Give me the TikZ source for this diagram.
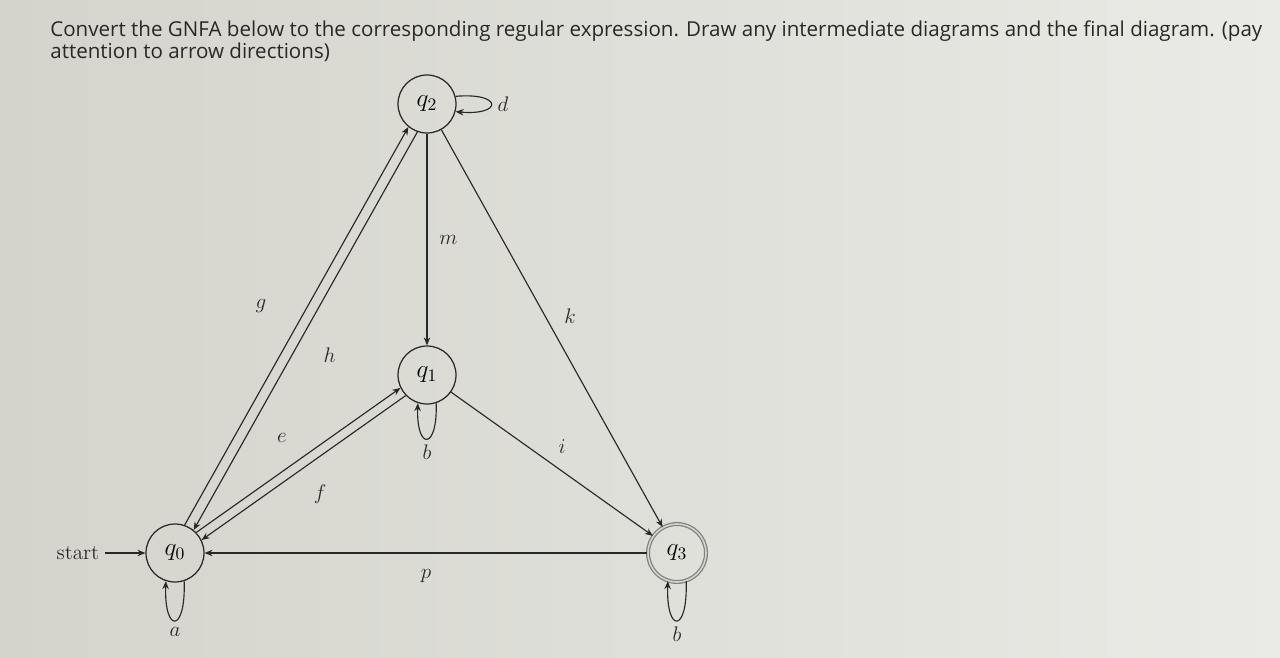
\documentclass[tikz,border=0pt]{standalone}
\usepackage{fontspec}
\newfontfamily\titlefont{Open Sans}
\usetikzlibrary{positioning, arrows.meta}
\definecolor{screen}{RGB}{212,212,204}
\definecolor{screenlight}{RGB}{234,234,230}
\definecolor{ink}{RGB}{40,40,40}

\begin{document}
\begin{tikzpicture}[x=0.02cm, y=-0.02cm, >={Stealth[length=1.6mm, width=1.3mm]},
		state/.style={circle, draw=ink, line width=0.7pt, minimum size=1.16cm, inner sep=0pt, font=\Large},
		accepting/.style={draw=gray, double=screen, double distance=0.9pt},
		trans/.style={->, draw=ink, line width=0.65pt},
		lbl/.style={font=\large, text=ink}]
	\shade[left color=screen, right color=screenlight] (0,0) rectangle (1280,658);
	\useasboundingbox (0,0) rectangle (1280,658);
	\node[anchor=north west, align=left, inner sep=0pt, text=ink, font=\titlefont\fontsize{11.7}{12.9}\selectfont] (title) at (50,20) {Convert the GNFA below to the corresponding regular expression. Draw any intermediate diagrams and the final diagram. (pay\\attention to arrow directions)};
	% states
	\node[state] (q0) at (175,553) {$q_0$};
	\node[state] (q1) at (427,375) {$q_1$};
	\node[state] (q2) at (427,104) {$q_2$};
	\node[state, accepting] (q3) at (677,553) {$q_3$};
	\node[lbl, left=0.8cm of q0] (start) {start};
	\draw[trans] (start) -- (q0);
	% transitions
	\draw[trans] (q0.71) -- node[lbl, pos=.55, left=0.7cm] {$g$} (q2.231);
	\draw[trans] (q2.251) -- node[lbl, pos=.56, right=0.5cm] {$h$} (q0.51);
	\draw[trans] (q0.44) -- node[lbl, pos=.42, above=0.45cm] {$e$} (q1.206);
	\draw[trans] (q1.224) -- node[lbl, pos=.42, below=0.45cm] {$f$} (q0.26);
	\draw[trans] (q2) -- node[lbl, pos=.5, right=0.12cm] {$m$} (q1);
	\draw[trans] (q2) -- node[lbl, pos=.47, right=0.25cm] {$k$} (q3);
	\draw[trans] (q1) -- node[lbl, pos=.55, above=0.22cm] {$i$} (q3);
	\draw[trans] (q3) -- node[lbl, below=0.2cm] {$p$} (q0);
	% loops
	\draw[trans] (q0.-72) to[out=-88, in=-92, distance=1.05cm] node[lbl, below] {$a$} (q0.-108);
	\draw[trans] (q1.-72) to[out=-88, in=-92, distance=0.95cm] node[lbl, below] {$b$} (q1.-108);
	\draw[trans] (q3.-72) to[out=-88, in=-92, distance=1.05cm] node[lbl, below] {$b$} (q3.-108);
	\draw[trans] (q2.15) to[out=5, in=-5, distance=0.95cm] node[lbl, right] {$d$} (q2.-15);
\end{tikzpicture}
\end{document}
